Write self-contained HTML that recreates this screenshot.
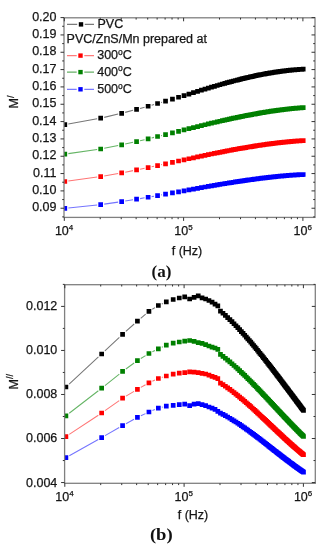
<!DOCTYPE html>
<html><head><meta charset="utf-8"><title>M' and M'' vs frequency</title>
<style>
html,body{margin:0;padding:0;background:#fff;}
body{width:325px;height:550px;overflow:hidden;position:relative;}
svg{position:absolute;left:0;top:0;display:block;}
text{font-family:"Liberation Sans",Arial,sans-serif;font-size:12.5px;fill:#151515;stroke:#151515;stroke-width:0.25px;}
.cap{font-family:"Liberation Serif","Times New Roman",serif;font-weight:bold;font-size:17px;fill:#111;stroke:none;}
</style></head>
<body>
<svg width="325" height="550" viewBox="0 0 325 550">
<defs><clipPath id="ca"><rect x="64.00" y="17.80" width="251.00" height="199.60"/></clipPath><clipPath id="cb"><rect x="64.60" y="284.70" width="250.70" height="198.60"/></clipPath></defs>
<g clip-path="url(#ca)"><path d="M68.33,124.06L97.15,118.83M104.20,117.37L118.15,114.11M125.18,112.38L133.05,110.33M140.07,108.45L144.61,107.20M151.62,105.22L154.05,104.53M161.06,102.49L162.03,102.20" fill="none" stroke="#777777" stroke-width="1.05"/>
<path d="M62.45,122.35h4.7v4.7h-4.7zM98.33,115.85h4.7v4.7h-4.7zM119.32,110.94h4.7v4.7h-4.7zM134.22,107.07h4.7v4.7h-4.7zM145.77,103.88h4.7v4.7h-4.7zM155.21,101.17h4.7v4.7h-4.7zM163.19,98.82h4.7v4.7h-4.7zM170.10,96.75h4.7v4.7h-4.7zM176.20,94.89h4.7v4.7h-4.7zM181.65,93.22h4.7v4.7h-4.7zM186.58,91.69h4.7v4.7h-4.7zM191.09,90.30h4.7v4.7h-4.7zM195.23,89.03h4.7v4.7h-4.7zM199.07,87.86h4.7v4.7h-4.7zM202.64,86.77h4.7v4.7h-4.7zM205.98,85.77h4.7v4.7h-4.7zM209.12,84.83h4.7v4.7h-4.7zM212.08,83.96h4.7v4.7h-4.7zM214.88,83.14h4.7v4.7h-4.7zM217.53,82.38h4.7v4.7h-4.7zM220.06,81.67h4.7v4.7h-4.7zM222.47,81.00h4.7v4.7h-4.7zM224.77,80.36h4.7v4.7h-4.7zM226.97,79.77h4.7v4.7h-4.7zM229.08,79.20h4.7v4.7h-4.7zM231.11,78.67h4.7v4.7h-4.7zM233.07,78.16h4.7v4.7h-4.7zM234.95,77.68h4.7v4.7h-4.7zM236.77,77.22h4.7v4.7h-4.7zM238.52,76.78h4.7v4.7h-4.7zM240.22,76.37h4.7v4.7h-4.7zM241.86,75.97h4.7v4.7h-4.7zM243.46,75.60h4.7v4.7h-4.7zM245.00,75.24h4.7v4.7h-4.7zM246.50,74.89h4.7v4.7h-4.7zM247.96,74.56h4.7v4.7h-4.7zM249.38,74.24h4.7v4.7h-4.7zM250.76,73.94h4.7v4.7h-4.7zM252.10,73.65h4.7v4.7h-4.7zM253.42,73.37h4.7v4.7h-4.7zM254.69,73.11h4.7v4.7h-4.7zM255.94,72.85h4.7v4.7h-4.7zM257.16,72.60h4.7v4.7h-4.7zM258.35,72.37h4.7v4.7h-4.7zM259.51,72.14h4.7v4.7h-4.7zM260.65,71.92h4.7v4.7h-4.7zM261.76,71.71h4.7v4.7h-4.7zM262.85,71.51h4.7v4.7h-4.7zM263.92,71.31h4.7v4.7h-4.7zM264.97,71.12h4.7v4.7h-4.7zM265.99,70.94h4.7v4.7h-4.7zM267.00,70.77h4.7v4.7h-4.7zM267.98,70.60h4.7v4.7h-4.7zM268.95,70.43h4.7v4.7h-4.7zM269.90,70.28h4.7v4.7h-4.7zM270.83,70.13h4.7v4.7h-4.7zM271.75,69.98h4.7v4.7h-4.7zM272.65,69.84h4.7v4.7h-4.7zM273.54,69.70h4.7v4.7h-4.7zM274.41,69.57h4.7v4.7h-4.7zM275.26,69.45h4.7v4.7h-4.7zM276.10,69.33h4.7v4.7h-4.7zM276.93,69.21h4.7v4.7h-4.7zM277.75,69.09h4.7v4.7h-4.7zM278.55,68.98h4.7v4.7h-4.7zM279.34,68.88h4.7v4.7h-4.7zM280.12,68.78h4.7v4.7h-4.7zM280.89,68.68h4.7v4.7h-4.7zM281.64,68.58h4.7v4.7h-4.7zM282.39,68.49h4.7v4.7h-4.7zM283.12,68.40h4.7v4.7h-4.7zM283.84,68.32h4.7v4.7h-4.7zM284.56,68.23h4.7v4.7h-4.7zM285.26,68.15h4.7v4.7h-4.7zM285.96,68.08h4.7v4.7h-4.7zM286.64,68.00h4.7v4.7h-4.7zM287.32,67.93h4.7v4.7h-4.7zM287.99,67.86h4.7v4.7h-4.7zM288.65,67.80h4.7v4.7h-4.7zM289.30,67.73h4.7v4.7h-4.7zM289.94,67.67h4.7v4.7h-4.7zM290.58,67.61h4.7v4.7h-4.7zM291.20,67.55h4.7v4.7h-4.7zM291.82,67.50h4.7v4.7h-4.7zM292.44,67.45h4.7v4.7h-4.7zM293.04,67.39h4.7v4.7h-4.7zM293.64,67.35h4.7v4.7h-4.7zM294.23,67.30h4.7v4.7h-4.7zM294.82,67.25h4.7v4.7h-4.7zM295.40,67.21h4.7v4.7h-4.7zM295.97,67.17h4.7v4.7h-4.7zM296.53,67.13h4.7v4.7h-4.7zM297.09,67.09h4.7v4.7h-4.7zM297.65,67.05h4.7v4.7h-4.7zM298.19,67.02h4.7v4.7h-4.7zM298.74,66.98h4.7v4.7h-4.7zM299.27,66.95h4.7v4.7h-4.7zM299.80,66.92h4.7v4.7h-4.7zM300.33,66.89h4.7v4.7h-4.7zM300.85,66.86h4.7v4.7h-4.7z" fill="#000000"/>
<path d="M68.34,153.62L97.14,149.49M104.21,148.29L118.15,145.53M125.19,144.05L133.04,142.31M140.08,140.70L144.60,139.64M151.63,137.96L154.04,137.38M161.07,135.66L162.02,135.42" fill="none" stroke="#66b566" stroke-width="1.05"/>
<path d="M62.45,151.78h4.7v4.7h-4.7zM98.33,146.63h4.7v4.7h-4.7zM119.32,142.49h4.7v4.7h-4.7zM134.22,139.18h4.7v4.7h-4.7zM145.77,136.46h4.7v4.7h-4.7zM155.21,134.17h4.7v4.7h-4.7zM163.19,132.20h4.7v4.7h-4.7zM170.10,130.48h4.7v4.7h-4.7zM176.20,128.96h4.7v4.7h-4.7zM181.65,127.59h4.7v4.7h-4.7zM186.58,126.36h4.7v4.7h-4.7zM191.09,125.25h4.7v4.7h-4.7zM195.23,124.22h4.7v4.7h-4.7zM199.07,123.29h4.7v4.7h-4.7zM202.64,122.42h4.7v4.7h-4.7zM205.98,121.61h4.7v4.7h-4.7zM209.12,120.86h4.7v4.7h-4.7zM212.08,120.17h4.7v4.7h-4.7zM214.88,119.51h4.7v4.7h-4.7zM217.53,118.90h4.7v4.7h-4.7zM220.06,118.32h4.7v4.7h-4.7zM222.47,117.77h4.7v4.7h-4.7zM224.77,117.26h4.7v4.7h-4.7zM226.97,116.77h4.7v4.7h-4.7zM229.08,116.31h4.7v4.7h-4.7zM231.11,115.87h4.7v4.7h-4.7zM233.07,115.45h4.7v4.7h-4.7zM234.95,115.06h4.7v4.7h-4.7zM236.77,114.68h4.7v4.7h-4.7zM238.52,114.31h4.7v4.7h-4.7zM240.22,113.97h4.7v4.7h-4.7zM241.86,113.64h4.7v4.7h-4.7zM243.46,113.32h4.7v4.7h-4.7zM245.00,113.02h4.7v4.7h-4.7zM246.50,112.73h4.7v4.7h-4.7zM247.96,112.45h4.7v4.7h-4.7zM249.38,112.18h4.7v4.7h-4.7zM250.76,111.92h4.7v4.7h-4.7zM252.10,111.68h4.7v4.7h-4.7zM253.42,111.44h4.7v4.7h-4.7zM254.69,111.21h4.7v4.7h-4.7zM255.94,110.99h4.7v4.7h-4.7zM257.16,110.78h4.7v4.7h-4.7zM258.35,110.57h4.7v4.7h-4.7zM259.51,110.37h4.7v4.7h-4.7zM260.65,110.18h4.7v4.7h-4.7zM261.76,110.00h4.7v4.7h-4.7zM262.85,109.82h4.7v4.7h-4.7zM263.92,109.64h4.7v4.7h-4.7zM264.97,109.48h4.7v4.7h-4.7zM265.99,109.32h4.7v4.7h-4.7zM267.00,109.16h4.7v4.7h-4.7zM267.98,109.01h4.7v4.7h-4.7zM268.95,108.86h4.7v4.7h-4.7zM269.90,108.72h4.7v4.7h-4.7zM270.83,108.58h4.7v4.7h-4.7zM271.75,108.45h4.7v4.7h-4.7zM272.65,108.32h4.7v4.7h-4.7zM273.54,108.20h4.7v4.7h-4.7zM274.41,108.08h4.7v4.7h-4.7zM275.26,107.96h4.7v4.7h-4.7zM276.10,107.85h4.7v4.7h-4.7zM276.93,107.74h4.7v4.7h-4.7zM277.75,107.63h4.7v4.7h-4.7zM278.55,107.53h4.7v4.7h-4.7zM279.34,107.43h4.7v4.7h-4.7zM280.12,107.33h4.7v4.7h-4.7zM280.89,107.23h4.7v4.7h-4.7zM281.64,107.14h4.7v4.7h-4.7zM282.39,107.05h4.7v4.7h-4.7zM283.12,106.97h4.7v4.7h-4.7zM283.84,106.88h4.7v4.7h-4.7zM284.56,106.80h4.7v4.7h-4.7zM285.26,106.72h4.7v4.7h-4.7zM285.96,106.64h4.7v4.7h-4.7zM286.64,106.57h4.7v4.7h-4.7zM287.32,106.50h4.7v4.7h-4.7zM287.99,106.42h4.7v4.7h-4.7zM288.65,106.36h4.7v4.7h-4.7zM289.30,106.29h4.7v4.7h-4.7zM289.94,106.23h4.7v4.7h-4.7zM290.58,106.16h4.7v4.7h-4.7zM291.20,106.10h4.7v4.7h-4.7zM291.82,106.04h4.7v4.7h-4.7zM292.44,105.98h4.7v4.7h-4.7zM293.04,105.93h4.7v4.7h-4.7zM293.64,105.87h4.7v4.7h-4.7zM294.23,105.82h4.7v4.7h-4.7zM294.82,105.77h4.7v4.7h-4.7zM295.40,105.72h4.7v4.7h-4.7zM295.97,105.67h4.7v4.7h-4.7zM296.53,105.63h4.7v4.7h-4.7zM297.09,105.58h4.7v4.7h-4.7zM297.65,105.54h4.7v4.7h-4.7zM298.19,105.49h4.7v4.7h-4.7zM298.74,105.45h4.7v4.7h-4.7zM299.27,105.41h4.7v4.7h-4.7zM299.80,105.37h4.7v4.7h-4.7zM300.33,105.34h4.7v4.7h-4.7zM300.85,105.30h4.7v4.7h-4.7z" fill="#008000"/>
<path d="M68.34,181.02L97.14,177.10M104.21,175.99L118.14,173.50M125.20,172.18L133.04,170.63M140.09,169.20L144.59,168.27M151.64,166.79L154.03,166.29M161.08,164.78L162.01,164.58" fill="none" stroke="#ff7575" stroke-width="1.05"/>
<path d="M62.45,179.16h4.7v4.7h-4.7zM98.33,174.27h4.7v4.7h-4.7zM119.32,170.52h4.7v4.7h-4.7zM134.22,167.58h4.7v4.7h-4.7zM145.77,165.19h4.7v4.7h-4.7zM155.21,163.19h4.7v4.7h-4.7zM163.19,161.47h4.7v4.7h-4.7zM170.10,159.97h4.7v4.7h-4.7zM176.20,158.65h4.7v4.7h-4.7zM181.65,157.47h4.7v4.7h-4.7zM186.58,156.40h4.7v4.7h-4.7zM191.09,155.44h4.7v4.7h-4.7zM195.23,154.55h4.7v4.7h-4.7zM199.07,153.74h4.7v4.7h-4.7zM202.64,153.00h4.7v4.7h-4.7zM205.98,152.30h4.7v4.7h-4.7zM209.12,151.66h4.7v4.7h-4.7zM212.08,151.06h4.7v4.7h-4.7zM214.88,150.49h4.7v4.7h-4.7zM217.53,149.97h4.7v4.7h-4.7zM220.06,149.47h4.7v4.7h-4.7zM222.47,149.00h4.7v4.7h-4.7zM224.77,148.56h4.7v4.7h-4.7zM226.97,148.14h4.7v4.7h-4.7zM229.08,147.74h4.7v4.7h-4.7zM231.11,147.36h4.7v4.7h-4.7zM233.07,147.01h4.7v4.7h-4.7zM234.95,146.67h4.7v4.7h-4.7zM236.77,146.34h4.7v4.7h-4.7zM238.52,146.03h4.7v4.7h-4.7zM240.22,145.73h4.7v4.7h-4.7zM241.86,145.45h4.7v4.7h-4.7zM243.46,145.18h4.7v4.7h-4.7zM245.00,144.92h4.7v4.7h-4.7zM246.50,144.67h4.7v4.7h-4.7zM247.96,144.43h4.7v4.7h-4.7zM249.38,144.20h4.7v4.7h-4.7zM250.76,143.98h4.7v4.7h-4.7zM252.10,143.76h4.7v4.7h-4.7zM253.42,143.56h4.7v4.7h-4.7zM254.69,143.36h4.7v4.7h-4.7zM255.94,143.17h4.7v4.7h-4.7zM257.16,142.99h4.7v4.7h-4.7zM258.35,142.81h4.7v4.7h-4.7zM259.51,142.64h4.7v4.7h-4.7zM260.65,142.48h4.7v4.7h-4.7zM261.76,142.32h4.7v4.7h-4.7zM262.85,142.16h4.7v4.7h-4.7zM263.92,142.02h4.7v4.7h-4.7zM264.97,141.87h4.7v4.7h-4.7zM265.99,141.73h4.7v4.7h-4.7zM267.00,141.60h4.7v4.7h-4.7zM267.98,141.47h4.7v4.7h-4.7zM268.95,141.34h4.7v4.7h-4.7zM269.90,141.22h4.7v4.7h-4.7zM270.83,141.10h4.7v4.7h-4.7zM271.75,140.99h4.7v4.7h-4.7zM272.65,140.88h4.7v4.7h-4.7zM273.54,140.77h4.7v4.7h-4.7zM274.41,140.67h4.7v4.7h-4.7zM275.26,140.57h4.7v4.7h-4.7zM276.10,140.47h4.7v4.7h-4.7zM276.93,140.37h4.7v4.7h-4.7zM277.75,140.28h4.7v4.7h-4.7zM278.55,140.19h4.7v4.7h-4.7zM279.34,140.10h4.7v4.7h-4.7zM280.12,140.02h4.7v4.7h-4.7zM280.89,139.94h4.7v4.7h-4.7zM281.64,139.86h4.7v4.7h-4.7zM282.39,139.78h4.7v4.7h-4.7zM283.12,139.70h4.7v4.7h-4.7zM283.84,139.63h4.7v4.7h-4.7zM284.56,139.56h4.7v4.7h-4.7zM285.26,139.49h4.7v4.7h-4.7zM285.96,139.43h4.7v4.7h-4.7zM286.64,139.36h4.7v4.7h-4.7zM287.32,139.30h4.7v4.7h-4.7zM287.99,139.24h4.7v4.7h-4.7zM288.65,139.18h4.7v4.7h-4.7zM289.30,139.12h4.7v4.7h-4.7zM289.94,139.06h4.7v4.7h-4.7zM290.58,139.01h4.7v4.7h-4.7zM291.20,138.95h4.7v4.7h-4.7zM291.82,138.90h4.7v4.7h-4.7zM292.44,138.85h4.7v4.7h-4.7zM293.04,138.80h4.7v4.7h-4.7zM293.64,138.76h4.7v4.7h-4.7zM294.23,138.71h4.7v4.7h-4.7zM294.82,138.67h4.7v4.7h-4.7zM295.40,138.62h4.7v4.7h-4.7zM295.97,138.58h4.7v4.7h-4.7zM296.53,138.54h4.7v4.7h-4.7zM297.09,138.50h4.7v4.7h-4.7zM297.65,138.46h4.7v4.7h-4.7zM298.19,138.42h4.7v4.7h-4.7zM298.74,138.39h4.7v4.7h-4.7zM299.27,138.35h4.7v4.7h-4.7zM299.80,138.32h4.7v4.7h-4.7zM300.33,138.28h4.7v4.7h-4.7zM300.85,138.25h4.7v4.7h-4.7z" fill="#ff0000"/>
<path d="M68.34,208.02L97.14,205.02M104.22,204.14L118.14,202.14M125.21,201.06L133.03,199.79M140.10,198.62L144.58,197.85M151.65,196.62L154.02,196.20M161.09,194.94L162.00,194.78" fill="none" stroke="#7575ff" stroke-width="1.05"/>
<path d="M62.45,206.04h4.7v4.7h-4.7zM98.33,202.30h4.7v4.7h-4.7zM119.32,199.28h4.7v4.7h-4.7zM134.22,196.87h4.7v4.7h-4.7zM145.77,194.89h4.7v4.7h-4.7zM155.21,193.23h4.7v4.7h-4.7zM163.19,191.79h4.7v4.7h-4.7zM170.10,190.54h4.7v4.7h-4.7zM176.20,189.43h4.7v4.7h-4.7zM181.65,188.43h4.7v4.7h-4.7zM186.58,187.53h4.7v4.7h-4.7zM191.09,186.72h4.7v4.7h-4.7zM195.23,185.97h4.7v4.7h-4.7zM199.07,185.29h4.7v4.7h-4.7zM202.64,184.66h4.7v4.7h-4.7zM205.98,184.07h4.7v4.7h-4.7zM209.12,183.52h4.7v4.7h-4.7zM212.08,183.01h4.7v4.7h-4.7zM214.88,182.53h4.7v4.7h-4.7zM217.53,182.09h4.7v4.7h-4.7zM220.06,181.66h4.7v4.7h-4.7zM222.47,181.27h4.7v4.7h-4.7zM224.77,180.89h4.7v4.7h-4.7zM226.97,180.53h4.7v4.7h-4.7zM229.08,180.20h4.7v4.7h-4.7zM231.11,179.88h4.7v4.7h-4.7zM233.07,179.57h4.7v4.7h-4.7zM234.95,179.28h4.7v4.7h-4.7zM236.77,179.00h4.7v4.7h-4.7zM238.52,178.74h4.7v4.7h-4.7zM240.22,178.49h4.7v4.7h-4.7zM241.86,178.25h4.7v4.7h-4.7zM243.46,178.01h4.7v4.7h-4.7zM245.00,177.79h4.7v4.7h-4.7zM246.50,177.58h4.7v4.7h-4.7zM247.96,177.38h4.7v4.7h-4.7zM249.38,177.18h4.7v4.7h-4.7zM250.76,176.99h4.7v4.7h-4.7zM252.10,176.81h4.7v4.7h-4.7zM253.42,176.64h4.7v4.7h-4.7zM254.69,176.47h4.7v4.7h-4.7zM255.94,176.31h4.7v4.7h-4.7zM257.16,176.15h4.7v4.7h-4.7zM258.35,176.00h4.7v4.7h-4.7zM259.51,175.85h4.7v4.7h-4.7zM260.65,175.71h4.7v4.7h-4.7zM261.76,175.58h4.7v4.7h-4.7zM262.85,175.45h4.7v4.7h-4.7zM263.92,175.32h4.7v4.7h-4.7zM264.97,175.20h4.7v4.7h-4.7zM265.99,175.08h4.7v4.7h-4.7zM267.00,174.97h4.7v4.7h-4.7zM267.98,174.86h4.7v4.7h-4.7zM268.95,174.75h4.7v4.7h-4.7zM269.90,174.65h4.7v4.7h-4.7zM270.83,174.55h4.7v4.7h-4.7zM271.75,174.45h4.7v4.7h-4.7zM272.65,174.35h4.7v4.7h-4.7zM273.54,174.26h4.7v4.7h-4.7zM274.41,174.17h4.7v4.7h-4.7zM275.26,174.09h4.7v4.7h-4.7zM276.10,174.00h4.7v4.7h-4.7zM276.93,173.92h4.7v4.7h-4.7zM277.75,173.84h4.7v4.7h-4.7zM278.55,173.77h4.7v4.7h-4.7zM279.34,173.69h4.7v4.7h-4.7zM280.12,173.62h4.7v4.7h-4.7zM280.89,173.55h4.7v4.7h-4.7zM281.64,173.48h4.7v4.7h-4.7zM282.39,173.42h4.7v4.7h-4.7zM283.12,173.36h4.7v4.7h-4.7zM283.84,173.29h4.7v4.7h-4.7zM284.56,173.23h4.7v4.7h-4.7zM285.26,173.17h4.7v4.7h-4.7zM285.96,173.12h4.7v4.7h-4.7zM286.64,173.06h4.7v4.7h-4.7zM287.32,173.01h4.7v4.7h-4.7zM287.99,172.96h4.7v4.7h-4.7zM288.65,172.91h4.7v4.7h-4.7zM289.30,172.86h4.7v4.7h-4.7zM289.94,172.81h4.7v4.7h-4.7zM290.58,172.76h4.7v4.7h-4.7zM291.20,172.72h4.7v4.7h-4.7zM291.82,172.68h4.7v4.7h-4.7zM292.44,172.63h4.7v4.7h-4.7zM293.04,172.59h4.7v4.7h-4.7zM293.64,172.55h4.7v4.7h-4.7zM294.23,172.51h4.7v4.7h-4.7zM294.82,172.47h4.7v4.7h-4.7zM295.40,172.44h4.7v4.7h-4.7zM295.97,172.40h4.7v4.7h-4.7zM296.53,172.37h4.7v4.7h-4.7zM297.09,172.33h4.7v4.7h-4.7zM297.65,172.30h4.7v4.7h-4.7zM298.19,172.27h4.7v4.7h-4.7zM298.74,172.24h4.7v4.7h-4.7zM299.27,172.21h4.7v4.7h-4.7zM299.80,172.18h4.7v4.7h-4.7zM300.33,172.15h4.7v4.7h-4.7zM300.85,172.13h4.7v4.7h-4.7z" fill="#0000ff"/></g>
<g clip-path="url(#cb)"><path d="M69.13,384.02L98.43,356.98M104.89,350.96L119.36,337.34M125.83,331.41L134.18,323.99M140.69,318.35L145.67,314.15M152.30,309.29L154.98,307.61M161.79,303.94L162.85,303.46" fill="none" stroke="#777777" stroke-width="1.05"/>
<path d="M63.55,384.65h4.7v4.7h-4.7zM99.31,351.65h4.7v4.7h-4.7zM120.23,331.95h4.7v4.7h-4.7zM135.07,318.75h4.7v4.7h-4.7zM146.59,309.05h4.7v4.7h-4.7zM155.99,303.15h4.7v4.7h-4.7zM163.95,299.55h4.7v4.7h-4.7zM170.84,297.15h4.7v4.7h-4.7zM176.91,295.65h4.7v4.7h-4.7zM182.35,294.55h4.7v4.7h-4.7zM187.27,296.65h4.7v4.7h-4.7zM191.76,294.95h4.7v4.7h-4.7zM195.89,293.55h4.7v4.7h-4.7zM199.71,295.55h4.7v4.7h-4.7zM203.27,296.65h4.7v4.7h-4.7zM206.60,298.15h4.7v4.7h-4.7zM209.73,299.85h4.7v4.7h-4.7zM212.68,301.75h4.7v4.7h-4.7zM215.47,303.55h4.7v4.7h-4.7zM218.11,308.73h4.7v4.7h-4.7zM220.63,310.91h4.7v4.7h-4.7zM223.03,313.07h4.7v4.7h-4.7zM225.32,315.21h4.7v4.7h-4.7zM227.52,317.31h4.7v4.7h-4.7zM229.63,319.37h4.7v4.7h-4.7zM231.65,321.41h4.7v4.7h-4.7zM233.60,323.41h4.7v4.7h-4.7zM235.47,325.37h4.7v4.7h-4.7zM237.28,327.30h4.7v4.7h-4.7zM239.03,329.20h4.7v4.7h-4.7zM240.72,331.06h4.7v4.7h-4.7zM242.36,332.89h4.7v4.7h-4.7zM243.95,334.68h4.7v4.7h-4.7zM245.49,336.44h4.7v4.7h-4.7zM246.99,338.17h4.7v4.7h-4.7zM248.44,339.87h4.7v4.7h-4.7zM249.85,341.54h4.7v4.7h-4.7zM251.23,343.17h4.7v4.7h-4.7zM252.57,344.78h4.7v4.7h-4.7zM253.87,346.36h4.7v4.7h-4.7zM255.15,347.91h4.7v4.7h-4.7zM256.39,349.44h4.7v4.7h-4.7zM257.61,350.93h4.7v4.7h-4.7zM258.79,352.41h4.7v4.7h-4.7zM259.95,353.85h4.7v4.7h-4.7zM261.09,355.28h4.7v4.7h-4.7zM262.20,356.67h4.7v4.7h-4.7zM263.28,358.05h4.7v4.7h-4.7zM264.35,359.40h4.7v4.7h-4.7zM265.39,360.73h4.7v4.7h-4.7zM266.41,362.04h4.7v4.7h-4.7zM267.41,363.33h4.7v4.7h-4.7zM268.39,364.60h4.7v4.7h-4.7zM269.36,365.85h4.7v4.7h-4.7zM270.31,367.07h4.7v4.7h-4.7zM271.23,368.28h4.7v4.7h-4.7zM272.15,369.48h4.7v4.7h-4.7zM273.05,370.65h4.7v4.7h-4.7zM273.93,371.81h4.7v4.7h-4.7zM274.79,372.94h4.7v4.7h-4.7zM275.65,374.07h4.7v4.7h-4.7zM276.49,375.17h4.7v4.7h-4.7zM277.31,376.26h4.7v4.7h-4.7zM278.12,377.34h4.7v4.7h-4.7zM278.92,378.39h4.7v4.7h-4.7zM279.71,379.44h4.7v4.7h-4.7zM280.49,380.47h4.7v4.7h-4.7zM281.25,381.48h4.7v4.7h-4.7zM282.01,382.48h4.7v4.7h-4.7zM282.75,383.47h4.7v4.7h-4.7zM283.48,384.45h4.7v4.7h-4.7zM284.20,385.41h4.7v4.7h-4.7zM284.91,386.36h4.7v4.7h-4.7zM285.61,387.29h4.7v4.7h-4.7zM286.31,388.22h4.7v4.7h-4.7zM286.99,389.13h4.7v4.7h-4.7zM287.67,390.03h4.7v4.7h-4.7zM288.33,390.92h4.7v4.7h-4.7zM288.99,391.80h4.7v4.7h-4.7zM289.64,392.67h4.7v4.7h-4.7zM290.28,393.52h4.7v4.7h-4.7zM290.91,394.37h4.7v4.7h-4.7zM291.54,395.21h4.7v4.7h-4.7zM292.15,396.03h4.7v4.7h-4.7zM292.76,396.85h4.7v4.7h-4.7zM293.37,397.65h4.7v4.7h-4.7zM293.96,398.45h4.7v4.7h-4.7zM294.55,399.24h4.7v4.7h-4.7zM295.14,400.02h4.7v4.7h-4.7zM295.71,400.78h4.7v4.7h-4.7zM296.28,401.54h4.7v4.7h-4.7zM296.85,402.30h4.7v4.7h-4.7zM297.41,403.04h4.7v4.7h-4.7zM297.96,403.77h4.7v4.7h-4.7zM298.50,404.50h4.7v4.7h-4.7zM299.04,405.22h4.7v4.7h-4.7zM299.58,405.93h4.7v4.7h-4.7zM300.11,406.63h4.7v4.7h-4.7zM300.63,407.33h4.7v4.7h-4.7zM301.15,408.01h4.7v4.7h-4.7z" fill="#000000"/>
<path d="M69.20,413.25L98.36,390.75M104.95,385.56L119.30,374.04M125.90,368.98L134.10,363.02M140.80,358.52L145.57,355.58M152.36,351.79L154.92,350.51M161.79,347.24L162.85,346.76" fill="none" stroke="#66b566" stroke-width="1.05"/>
<path d="M63.55,413.45h4.7v4.7h-4.7zM99.31,385.85h4.7v4.7h-4.7zM120.23,369.05h4.7v4.7h-4.7zM135.07,358.25h4.7v4.7h-4.7zM146.59,351.15h4.7v4.7h-4.7zM155.99,346.45h4.7v4.7h-4.7zM163.95,342.85h4.7v4.7h-4.7zM170.84,340.85h4.7v4.7h-4.7zM176.91,339.65h4.7v4.7h-4.7zM182.35,338.75h4.7v4.7h-4.7zM187.27,338.15h4.7v4.7h-4.7zM191.76,339.05h4.7v4.7h-4.7zM195.89,340.25h4.7v4.7h-4.7zM199.71,341.05h4.7v4.7h-4.7zM203.27,342.25h4.7v4.7h-4.7zM206.60,343.65h4.7v4.7h-4.7zM209.73,344.85h4.7v4.7h-4.7zM212.68,345.65h4.7v4.7h-4.7zM215.47,347.05h4.7v4.7h-4.7zM218.11,352.12h4.7v4.7h-4.7zM220.63,354.02h4.7v4.7h-4.7zM223.03,355.90h4.7v4.7h-4.7zM225.32,357.76h4.7v4.7h-4.7zM227.52,359.59h4.7v4.7h-4.7zM229.63,361.40h4.7v4.7h-4.7zM231.65,363.17h4.7v4.7h-4.7zM233.60,364.91h4.7v4.7h-4.7zM235.47,366.61h4.7v4.7h-4.7zM237.28,368.29h4.7v4.7h-4.7zM239.03,369.93h4.7v4.7h-4.7zM240.72,371.54h4.7v4.7h-4.7zM242.36,373.12h4.7v4.7h-4.7zM243.95,374.67h4.7v4.7h-4.7zM245.49,376.18h4.7v4.7h-4.7zM246.99,377.67h4.7v4.7h-4.7zM248.44,379.13h4.7v4.7h-4.7zM249.85,380.55h4.7v4.7h-4.7zM251.23,381.95h4.7v4.7h-4.7zM252.57,383.32h4.7v4.7h-4.7zM253.87,384.67h4.7v4.7h-4.7zM255.15,385.99h4.7v4.7h-4.7zM256.39,387.28h4.7v4.7h-4.7zM257.61,388.55h4.7v4.7h-4.7zM258.79,389.79h4.7v4.7h-4.7zM259.95,391.01h4.7v4.7h-4.7zM261.09,392.20h4.7v4.7h-4.7zM262.20,393.38h4.7v4.7h-4.7zM263.28,394.53h4.7v4.7h-4.7zM264.35,395.66h4.7v4.7h-4.7zM265.39,396.76h4.7v4.7h-4.7zM266.41,397.85h4.7v4.7h-4.7zM267.41,398.92h4.7v4.7h-4.7zM268.39,399.97h4.7v4.7h-4.7zM269.36,401.00h4.7v4.7h-4.7zM270.31,402.01h4.7v4.7h-4.7zM271.23,403.01h4.7v4.7h-4.7zM272.15,403.99h4.7v4.7h-4.7zM273.05,404.95h4.7v4.7h-4.7zM273.93,405.89h4.7v4.7h-4.7zM274.79,406.82h4.7v4.7h-4.7zM275.65,407.73h4.7v4.7h-4.7zM276.49,408.63h4.7v4.7h-4.7zM277.31,409.51h4.7v4.7h-4.7zM278.12,410.37h4.7v4.7h-4.7zM278.92,411.23h4.7v4.7h-4.7zM279.71,412.07h4.7v4.7h-4.7zM280.49,412.89h4.7v4.7h-4.7zM281.25,413.70h4.7v4.7h-4.7zM282.01,414.50h4.7v4.7h-4.7zM282.75,415.29h4.7v4.7h-4.7zM283.48,416.06h4.7v4.7h-4.7zM284.20,416.82h4.7v4.7h-4.7zM284.91,417.57h4.7v4.7h-4.7zM285.61,418.31h4.7v4.7h-4.7zM286.31,419.04h4.7v4.7h-4.7zM286.99,419.75h4.7v4.7h-4.7zM287.67,420.46h4.7v4.7h-4.7zM288.33,421.15h4.7v4.7h-4.7zM288.99,421.83h4.7v4.7h-4.7zM289.64,422.51h4.7v4.7h-4.7zM290.28,423.17h4.7v4.7h-4.7zM290.91,423.83h4.7v4.7h-4.7zM291.54,424.47h4.7v4.7h-4.7zM292.15,425.10h4.7v4.7h-4.7zM292.76,425.73h4.7v4.7h-4.7zM293.37,426.35h4.7v4.7h-4.7zM293.96,426.96h4.7v4.7h-4.7zM294.55,427.55h4.7v4.7h-4.7zM295.14,428.15h4.7v4.7h-4.7zM295.71,428.73h4.7v4.7h-4.7zM296.28,429.30h4.7v4.7h-4.7zM296.85,429.87h4.7v4.7h-4.7zM297.41,430.43h4.7v4.7h-4.7zM297.96,430.98h4.7v4.7h-4.7zM298.50,431.52h4.7v4.7h-4.7zM299.04,432.06h4.7v4.7h-4.7zM299.58,432.59h4.7v4.7h-4.7zM300.11,433.11h4.7v4.7h-4.7zM300.63,433.62h4.7v4.7h-4.7zM301.15,434.13h4.7v4.7h-4.7z" fill="#008000"/>
<path d="M69.25,434.39L98.31,415.21M104.99,410.64L119.25,400.56M125.96,396.17L134.05,391.33M140.82,387.38L145.54,384.72M152.38,381.23L154.90,380.07M161.84,377.40L162.80,377.10" fill="none" stroke="#ff7575" stroke-width="1.05"/>
<path d="M63.55,434.25h4.7v4.7h-4.7zM99.31,410.65h4.7v4.7h-4.7zM120.23,395.85h4.7v4.7h-4.7zM135.07,386.95h4.7v4.7h-4.7zM146.59,380.45h4.7v4.7h-4.7zM155.99,376.15h4.7v4.7h-4.7zM163.95,373.65h4.7v4.7h-4.7zM170.84,371.85h4.7v4.7h-4.7zM176.91,370.85h4.7v4.7h-4.7zM182.35,370.25h4.7v4.7h-4.7zM187.27,369.55h4.7v4.7h-4.7zM191.76,369.85h4.7v4.7h-4.7zM195.89,370.25h4.7v4.7h-4.7zM199.71,370.95h4.7v4.7h-4.7zM203.27,371.65h4.7v4.7h-4.7zM206.60,372.85h4.7v4.7h-4.7zM209.73,374.05h4.7v4.7h-4.7zM212.68,375.05h4.7v4.7h-4.7zM215.47,376.35h4.7v4.7h-4.7zM218.11,380.68h4.7v4.7h-4.7zM220.63,382.30h4.7v4.7h-4.7zM223.03,383.91h4.7v4.7h-4.7zM225.32,385.51h4.7v4.7h-4.7zM227.52,387.10h4.7v4.7h-4.7zM229.63,388.67h4.7v4.7h-4.7zM231.65,390.22h4.7v4.7h-4.7zM233.60,391.75h4.7v4.7h-4.7zM235.47,393.25h4.7v4.7h-4.7zM237.28,394.73h4.7v4.7h-4.7zM239.03,396.19h4.7v4.7h-4.7zM240.72,397.61h4.7v4.7h-4.7zM242.36,399.02h4.7v4.7h-4.7zM243.95,400.39h4.7v4.7h-4.7zM245.49,401.74h4.7v4.7h-4.7zM246.99,403.07h4.7v4.7h-4.7zM248.44,404.37h4.7v4.7h-4.7zM249.85,405.64h4.7v4.7h-4.7zM251.23,406.89h4.7v4.7h-4.7zM252.57,408.11h4.7v4.7h-4.7zM253.87,409.31h4.7v4.7h-4.7zM255.15,410.49h4.7v4.7h-4.7zM256.39,411.64h4.7v4.7h-4.7zM257.61,412.77h4.7v4.7h-4.7zM258.79,413.88h4.7v4.7h-4.7zM259.95,414.97h4.7v4.7h-4.7zM261.09,416.03h4.7v4.7h-4.7zM262.20,417.08h4.7v4.7h-4.7zM263.28,418.10h4.7v4.7h-4.7zM264.35,419.10h4.7v4.7h-4.7zM265.39,420.09h4.7v4.7h-4.7zM266.41,421.06h4.7v4.7h-4.7zM267.41,422.01h4.7v4.7h-4.7zM268.39,422.94h4.7v4.7h-4.7zM269.36,423.85h4.7v4.7h-4.7zM270.31,424.75h4.7v4.7h-4.7zM271.23,425.62h4.7v4.7h-4.7zM272.15,426.49h4.7v4.7h-4.7zM273.05,427.34h4.7v4.7h-4.7zM273.93,428.17h4.7v4.7h-4.7zM274.79,428.98h4.7v4.7h-4.7zM275.65,429.79h4.7v4.7h-4.7zM276.49,430.57h4.7v4.7h-4.7zM277.31,431.35h4.7v4.7h-4.7zM278.12,432.11h4.7v4.7h-4.7zM278.92,432.85h4.7v4.7h-4.7zM279.71,433.58h4.7v4.7h-4.7zM280.49,434.30h4.7v4.7h-4.7zM281.25,435.01h4.7v4.7h-4.7zM282.01,435.71h4.7v4.7h-4.7zM282.75,436.39h4.7v4.7h-4.7zM283.48,437.06h4.7v4.7h-4.7zM284.20,437.72h4.7v4.7h-4.7zM284.91,438.37h4.7v4.7h-4.7zM285.61,439.01h4.7v4.7h-4.7zM286.31,439.64h4.7v4.7h-4.7zM286.99,440.25h4.7v4.7h-4.7zM287.67,440.86h4.7v4.7h-4.7zM288.33,441.45h4.7v4.7h-4.7zM288.99,442.04h4.7v4.7h-4.7zM289.64,442.62h4.7v4.7h-4.7zM290.28,443.18h4.7v4.7h-4.7zM290.91,443.74h4.7v4.7h-4.7zM291.54,444.29h4.7v4.7h-4.7zM292.15,444.83h4.7v4.7h-4.7zM292.76,445.36h4.7v4.7h-4.7zM293.37,445.88h4.7v4.7h-4.7zM293.96,446.40h4.7v4.7h-4.7zM294.55,446.90h4.7v4.7h-4.7zM295.14,447.40h4.7v4.7h-4.7zM295.71,447.89h4.7v4.7h-4.7zM296.28,448.38h4.7v4.7h-4.7zM296.85,448.85h4.7v4.7h-4.7zM297.41,449.32h4.7v4.7h-4.7zM297.96,449.78h4.7v4.7h-4.7zM298.50,450.23h4.7v4.7h-4.7zM299.04,450.68h4.7v4.7h-4.7zM299.58,451.11h4.7v4.7h-4.7zM300.11,451.55h4.7v4.7h-4.7zM300.63,451.97h4.7v4.7h-4.7zM301.15,452.39h4.7v4.7h-4.7z" fill="#ff0000"/>
<path d="M69.30,455.79L98.27,439.51M105.05,435.65L119.19,427.55M125.98,423.72L134.02,419.28M140.86,415.79L145.50,413.61M152.40,410.60L154.88,409.60M161.85,407.27L162.79,407.03" fill="none" stroke="#7575ff" stroke-width="1.05"/>
<path d="M63.55,455.35h4.7v4.7h-4.7zM99.31,435.25h4.7v4.7h-4.7zM120.23,423.25h4.7v4.7h-4.7zM135.07,415.05h4.7v4.7h-4.7zM146.59,409.65h4.7v4.7h-4.7zM155.99,405.85h4.7v4.7h-4.7zM163.95,403.75h4.7v4.7h-4.7zM170.84,402.95h4.7v4.7h-4.7zM176.91,402.35h4.7v4.7h-4.7zM182.35,401.85h4.7v4.7h-4.7zM187.27,403.25h4.7v4.7h-4.7zM191.76,401.85h4.7v4.7h-4.7zM195.89,401.25h4.7v4.7h-4.7zM199.71,402.25h4.7v4.7h-4.7zM203.27,403.25h4.7v4.7h-4.7zM206.60,404.65h4.7v4.7h-4.7zM209.73,405.85h4.7v4.7h-4.7zM212.68,407.05h4.7v4.7h-4.7zM215.47,408.95h4.7v4.7h-4.7zM218.11,410.82h4.7v4.7h-4.7zM220.63,412.09h4.7v4.7h-4.7zM223.03,413.37h4.7v4.7h-4.7zM225.32,414.65h4.7v4.7h-4.7zM227.52,415.92h4.7v4.7h-4.7zM229.63,417.18h4.7v4.7h-4.7zM231.65,418.43h4.7v4.7h-4.7zM233.60,419.66h4.7v4.7h-4.7zM235.47,420.88h4.7v4.7h-4.7zM237.28,422.08h4.7v4.7h-4.7zM239.03,423.26h4.7v4.7h-4.7zM240.72,424.43h4.7v4.7h-4.7zM242.36,425.57h4.7v4.7h-4.7zM243.95,426.69h4.7v4.7h-4.7zM245.49,427.80h4.7v4.7h-4.7zM246.99,428.88h4.7v4.7h-4.7zM248.44,429.94h4.7v4.7h-4.7zM249.85,430.99h4.7v4.7h-4.7zM251.23,432.01h4.7v4.7h-4.7zM252.57,433.02h4.7v4.7h-4.7zM253.87,434.00h4.7v4.7h-4.7zM255.15,434.97h4.7v4.7h-4.7zM256.39,435.92h4.7v4.7h-4.7zM257.61,436.85h4.7v4.7h-4.7zM258.79,437.77h4.7v4.7h-4.7zM259.95,438.66h4.7v4.7h-4.7zM261.09,439.54h4.7v4.7h-4.7zM262.20,440.40h4.7v4.7h-4.7zM263.28,441.25h4.7v4.7h-4.7zM264.35,442.08h4.7v4.7h-4.7zM265.39,442.90h4.7v4.7h-4.7zM266.41,443.70h4.7v4.7h-4.7zM267.41,444.48h4.7v4.7h-4.7zM268.39,445.25h4.7v4.7h-4.7zM269.36,446.01h4.7v4.7h-4.7zM270.31,446.75h4.7v4.7h-4.7zM271.23,447.48h4.7v4.7h-4.7zM272.15,448.19h4.7v4.7h-4.7zM273.05,448.90h4.7v4.7h-4.7zM273.93,449.59h4.7v4.7h-4.7zM274.79,450.26h4.7v4.7h-4.7zM275.65,450.93h4.7v4.7h-4.7zM276.49,451.58h4.7v4.7h-4.7zM277.31,452.23h4.7v4.7h-4.7zM278.12,452.86h4.7v4.7h-4.7zM278.92,453.48h4.7v4.7h-4.7zM279.71,454.09h4.7v4.7h-4.7zM280.49,454.68h4.7v4.7h-4.7zM281.25,455.27h4.7v4.7h-4.7zM282.01,455.85h4.7v4.7h-4.7zM282.75,456.42h4.7v4.7h-4.7zM283.48,456.98h4.7v4.7h-4.7zM284.20,457.53h4.7v4.7h-4.7zM284.91,458.07h4.7v4.7h-4.7zM285.61,458.60h4.7v4.7h-4.7zM286.31,459.12h4.7v4.7h-4.7zM286.99,459.63h4.7v4.7h-4.7zM287.67,460.14h4.7v4.7h-4.7zM288.33,460.64h4.7v4.7h-4.7zM288.99,461.12h4.7v4.7h-4.7zM289.64,461.60h4.7v4.7h-4.7zM290.28,462.08h4.7v4.7h-4.7zM290.91,462.54h4.7v4.7h-4.7zM291.54,463.00h4.7v4.7h-4.7zM292.15,463.45h4.7v4.7h-4.7zM292.76,463.89h4.7v4.7h-4.7zM293.37,464.33h4.7v4.7h-4.7zM293.96,464.76h4.7v4.7h-4.7zM294.55,465.18h4.7v4.7h-4.7zM295.14,465.59h4.7v4.7h-4.7zM295.71,466.00h4.7v4.7h-4.7zM296.28,466.41h4.7v4.7h-4.7zM296.85,466.80h4.7v4.7h-4.7zM297.41,467.19h4.7v4.7h-4.7zM297.96,467.58h4.7v4.7h-4.7zM298.50,467.95h4.7v4.7h-4.7zM299.04,468.33h4.7v4.7h-4.7zM299.58,468.69h4.7v4.7h-4.7zM300.11,469.05h4.7v4.7h-4.7zM300.63,469.41h4.7v4.7h-4.7zM301.15,469.76h4.7v4.7h-4.7z" fill="#0000ff"/></g>
<rect x="64.00" y="17.80" width="251.00" height="199.60" fill="none" stroke="#808080" stroke-width="1.3"/>
<path d="M64.30,217.40v3.50M64.30,17.80v3.50M100.21,217.40v1.80M100.21,17.80v1.80M121.22,217.40v1.80M121.22,17.80v1.80M136.13,217.40v1.80M136.13,17.80v1.80M147.69,217.40v1.80M147.69,17.80v1.80M157.13,217.40v1.80M157.13,17.80v1.80M165.12,217.40v1.80M165.12,17.80v1.80M172.04,217.40v1.80M172.04,17.80v1.80M178.14,217.40v1.80M178.14,17.80v1.80M183.60,217.40v3.50M183.60,17.80v3.50M219.51,217.40v1.80M219.51,17.80v1.80M240.52,217.40v1.80M240.52,17.80v1.80M255.43,217.40v1.80M255.43,17.80v1.80M266.99,217.40v1.80M266.99,17.80v1.80M276.43,217.40v1.80M276.43,17.80v1.80M284.42,217.40v1.80M284.42,17.80v1.80M291.34,217.40v1.80M291.34,17.80v1.80M297.44,217.40v1.80M297.44,17.80v1.80M302.90,217.40v3.50M302.90,17.80v3.50M64.00,208.23h-3.5M315.00,208.23h-3.5M64.00,190.90h-3.5M315.00,190.90h-3.5M64.00,173.57h-3.5M315.00,173.57h-3.5M64.00,156.24h-3.5M315.00,156.24h-3.5M64.00,138.91h-3.5M315.00,138.91h-3.5M64.00,121.58h-3.5M315.00,121.58h-3.5M64.00,104.25h-3.5M315.00,104.25h-3.5M64.00,86.92h-3.5M315.00,86.92h-3.5M64.00,69.59h-3.5M315.00,69.59h-3.5M64.00,52.26h-3.5M315.00,52.26h-3.5M64.00,34.93h-3.5M315.00,34.93h-3.5M64.00,17.60h-3.5M315.00,17.60h-3.5M64.00,216.89h-1.8M315.00,216.89h-1.8M64.00,199.56h-1.8M315.00,199.56h-1.8M64.00,182.23h-1.8M315.00,182.23h-1.8M64.00,164.90h-1.8M315.00,164.90h-1.8M64.00,147.57h-1.8M315.00,147.57h-1.8M64.00,130.24h-1.8M315.00,130.24h-1.8M64.00,112.91h-1.8M315.00,112.91h-1.8M64.00,95.58h-1.8M315.00,95.58h-1.8M64.00,78.25h-1.8M315.00,78.25h-1.8M64.00,60.93h-1.8M315.00,60.93h-1.8M64.00,43.60h-1.8M315.00,43.60h-1.8M64.00,26.27h-1.8M315.00,26.27h-1.8" stroke="#333" stroke-width="1" fill="none"/>
<rect x="64.60" y="284.70" width="250.70" height="198.60" fill="none" stroke="#808080" stroke-width="1.3"/>
<path d="M64.80,483.30v3.50M64.80,284.70v3.50M100.71,483.30v1.80M100.71,284.70v1.80M121.72,483.30v1.80M121.72,284.70v1.80M136.63,483.30v1.80M136.63,284.70v1.80M148.19,483.30v1.80M148.19,284.70v1.80M157.63,483.30v1.80M157.63,284.70v1.80M165.62,483.30v1.80M165.62,284.70v1.80M172.54,483.30v1.80M172.54,284.70v1.80M178.64,483.30v1.80M178.64,284.70v1.80M184.10,483.30v3.50M184.10,284.70v3.50M220.01,483.30v1.80M220.01,284.70v1.80M241.02,483.30v1.80M241.02,284.70v1.80M255.93,483.30v1.80M255.93,284.70v1.80M267.49,483.30v1.80M267.49,284.70v1.80M276.93,483.30v1.80M276.93,284.70v1.80M284.92,483.30v1.80M284.92,284.70v1.80M291.84,483.30v1.80M291.84,284.70v1.80M297.94,483.30v1.80M297.94,284.70v1.80M303.40,483.30v3.50M303.40,284.70v3.50M64.60,482.56h-3.5M315.30,482.56h-3.5M64.60,438.52h-3.5M315.30,438.52h-3.5M64.60,394.48h-3.5M315.30,394.48h-3.5M64.60,350.44h-3.5M315.30,350.44h-3.5M64.60,306.40h-3.5M315.30,306.40h-3.5M64.60,460.54h-1.8M315.30,460.54h-1.8M64.60,416.50h-1.8M315.30,416.50h-1.8M64.60,372.46h-1.8M315.30,372.46h-1.8M64.60,328.42h-1.8M315.30,328.42h-1.8M64.60,284.38h-1.8M315.30,284.38h-1.8" stroke="#333" stroke-width="1" fill="none"/>
<text x="56.5" y="211.2" text-anchor="end" font-size="12.5">0.09</text>
<text x="56.5" y="193.9" text-anchor="end" font-size="12.5">0.10</text>
<text x="56.5" y="176.6" text-anchor="end" font-size="12.5">0.11</text>
<text x="56.5" y="159.2" text-anchor="end" font-size="12.5">0.12</text>
<text x="56.5" y="141.9" text-anchor="end" font-size="12.5">0.13</text>
<text x="56.5" y="124.6" text-anchor="end" font-size="12.5">0.14</text>
<text x="56.5" y="107.3" text-anchor="end" font-size="12.5">0.15</text>
<text x="56.5" y="89.9" text-anchor="end" font-size="12.5">0.16</text>
<text x="56.5" y="72.6" text-anchor="end" font-size="12.5">0.17</text>
<text x="56.5" y="55.3" text-anchor="end" font-size="12.5">0.18</text>
<text x="56.5" y="37.9" text-anchor="end" font-size="12.5">0.19</text>
<text x="56.5" y="20.6" text-anchor="end" font-size="12.5">0.20</text>
<text x="57.3" y="486.5" text-anchor="end" font-size="12.2">0.004</text>
<text x="57.3" y="442.4" text-anchor="end" font-size="12.2">0.006</text>
<text x="57.3" y="398.4" text-anchor="end" font-size="12.2">0.008</text>
<text x="57.3" y="354.3" text-anchor="end" font-size="12.2">0.010</text>
<text x="57.3" y="310.3" text-anchor="end" font-size="12.2">0.012</text>
<text x="64.1" y="235.2" text-anchor="middle" font-size="12">10<tspan font-size="8" dy="-5.3">4</tspan></text>
<text x="183.4" y="235.2" text-anchor="middle" font-size="12">10<tspan font-size="8" dy="-5.3">5</tspan></text>
<text x="302.7" y="235.2" text-anchor="middle" font-size="12">10<tspan font-size="8" dy="-5.3">6</tspan></text>
<text x="64.5" y="500.8" text-anchor="middle" font-size="12">10<tspan font-size="8" dy="-5.3">4</tspan></text>
<text x="183.8" y="500.8" text-anchor="middle" font-size="12">10<tspan font-size="8" dy="-5.3">5</tspan></text>
<text x="303.1" y="500.8" text-anchor="middle" font-size="12">10<tspan font-size="8" dy="-5.3">6</tspan></text>

<path d="M67,24.4H77.2M84.8,24.4H94" stroke="#7a7a7a" stroke-width="1.2"/>
<path d="M67,55.6H76.7M84.3,55.6H94" stroke="#ff7a7a" stroke-width="1.2"/>
<path d="M67,72.1H76.7M84.3,72.1H94" stroke="#66b066" stroke-width="1.2"/>
<path d="M67,89.3H76.7M84.3,89.3H94" stroke="#7a7aff" stroke-width="1.2"/>
<rect x="78.8" y="22.2" width="4.4" height="4.4" fill="#000"/>
<rect x="78.3" y="53.4" width="4.4" height="4.4" fill="#f00"/>
<rect x="78.3" y="69.9" width="4.4" height="4.4" fill="#008000"/>
<rect x="78.3" y="87.1" width="4.4" height="4.4" fill="#00f"/>
<text x="97.5" y="28.0">PVC</text>
<text x="66.6" y="43.4">PVC/ZnS/Mn prepared at</text>
<text x="97.2" y="59.4">300<tspan font-size="8.5" dy="-4.6">o</tspan><tspan dy="4.6">C</tspan></text>
<text x="97.2" y="76.0">400<tspan font-size="8.5" dy="-4.6">o</tspan><tspan dy="4.6">C</tspan></text>
<text x="97.2" y="93.2">500<tspan font-size="8.5" dy="-4.6">o</tspan><tspan dy="4.6">C</tspan></text>

<text x="187" y="255.4" text-anchor="middle">f (Hz)</text>
<text x="193" y="519.2" text-anchor="middle">f (Hz)</text>
<text class="cap" x="161.5" y="276.8" text-anchor="middle">(a)</text>
<text class="cap" transform="translate(161.3,540.3) scale(1.1,1)" text-anchor="middle">(b)</text>
<text transform="translate(18.4,108.4) rotate(-90)">M<tspan font-size="9" dy="-4.5">/</tspan></text>
<text transform="translate(17.7,389.4) rotate(-90)">M<tspan font-size="9" dy="-4.5">//</tspan></text>
</svg>
</body></html>
